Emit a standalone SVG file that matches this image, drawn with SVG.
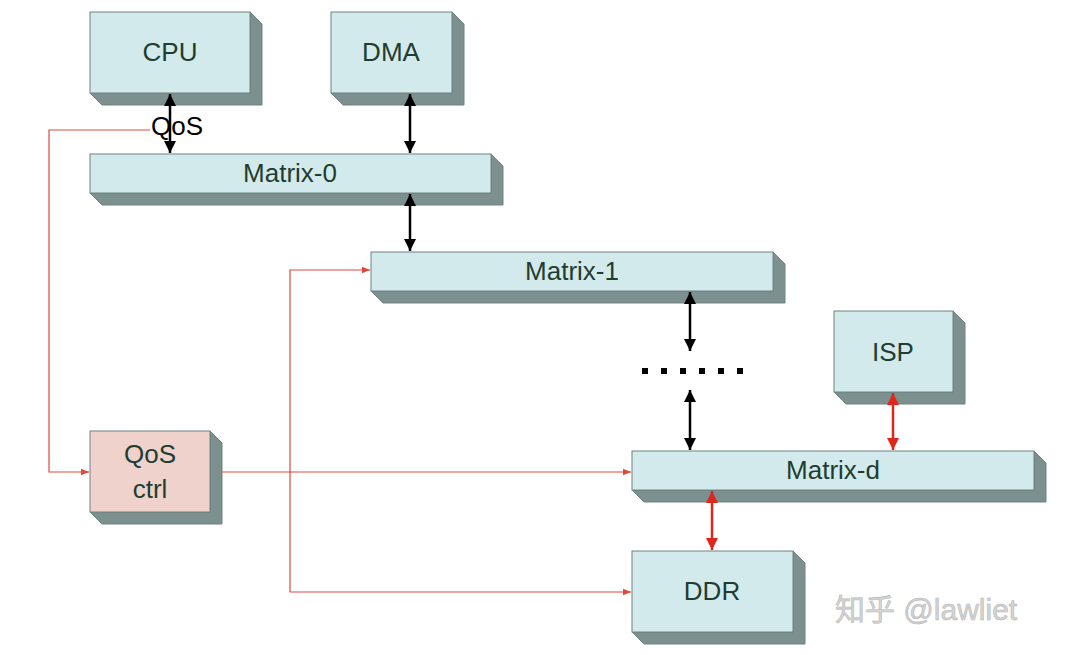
<svg xmlns="http://www.w3.org/2000/svg" width="1067" height="655" viewBox="0 0 1067 655">
<defs>
<style>
.f{fill:#d3eaed;stroke:#6f8282;stroke-width:1}
.s{fill:#7d9090;stroke:#6f8282;stroke-width:1}
.t{font-family:"Liberation Sans",Arial,sans-serif;font-size:26px;fill:#1f3d30;text-anchor:middle}
.k{stroke:#000;stroke-width:2.5;fill:none;marker-start:url(#kb);marker-end:url(#ka)}
.r{stroke:#e0261b;stroke-width:2.5;fill:none;marker-start:url(#rb);marker-end:url(#ra)}
.ta{stroke:#e0483c;stroke-width:1.2;fill:none;marker-end:url(#sa)}
</style>
<marker id="ka" viewBox="0 0 10 10" refX="10" refY="5" markerWidth="12" markerHeight="12" orient="auto" markerUnits="userSpaceOnUse"><path d="M0,0L10,5L0,10z" fill="#000"/></marker>
<marker id="kb" viewBox="0 0 10 10" refX="0" refY="5" markerWidth="12" markerHeight="12" orient="auto" markerUnits="userSpaceOnUse"><path d="M10,0L0,5L10,10z" fill="#000"/></marker>
<marker id="ra" viewBox="0 0 10 10" refX="10" refY="5" markerWidth="12" markerHeight="12" orient="auto" markerUnits="userSpaceOnUse"><path d="M0,0L10,5L0,10z" fill="#e0261b"/></marker>
<marker id="rb" viewBox="0 0 10 10" refX="0" refY="5" markerWidth="12" markerHeight="12" orient="auto" markerUnits="userSpaceOnUse"><path d="M10,0L0,5L10,10z" fill="#e0261b"/></marker>
<marker id="sa" viewBox="0 0 10 10" refX="10" refY="5" markerWidth="8" markerHeight="8" orient="auto" markerUnits="userSpaceOnUse"><path d="M0,1L10,5L0,9z" fill="#e0483c"/></marker>
</defs>
<rect width="1067" height="655" fill="#fff"/>
<g id="cpu"><path class="s" d="M250,12L262,24V105H102L90,93H250Z"/><rect class="f" x="90" y="12" width="160" height="81"/><text class="t" x="170" y="61">CPU</text></g>
<g id="dma"><path class="s" d="M452,12L464,24V105H343L331,93H452Z"/><rect class="f" x="331" y="12" width="121" height="81"/><text class="t" x="391" y="61">DMA</text></g>
<g id="matrix0"><path class="s" d="M491,154L503,166V205H102L90,193H491Z"/><rect class="f" x="90" y="154" width="401" height="39"/><text class="t" x="290" y="182">Matrix-0</text></g>
<g id="matrix1"><path class="s" d="M773,252L785,264V303H383L371,291H773Z"/><rect class="f" x="371" y="252" width="402" height="39"/><text class="t" x="572" y="280">Matrix-1</text></g>
<g id="isp"><path class="s" d="M953,311L965,323V404H846L834,392H953Z"/><rect class="f" x="834" y="311" width="119" height="81"/><text class="t" x="893" y="361">ISP</text></g>
<g id="matrixd"><path class="s" d="M1034,451L1046,463V502H644L632,490H1034Z"/><rect class="f" x="632" y="451" width="402" height="39"/><text class="t" x="833" y="479">Matrix-d</text></g>
<g id="qosctrl"><path class="s" d="M210,431L222,443V524H102L90,512H210Z"/><rect x="90" y="431" width="120" height="81" fill="#f0d2cd" stroke="#6f8282"/><text class="t" x="150" y="463">QoS</text><text class="t" x="150" y="498">ctrl</text></g>
<g id="ddr"><path class="s" d="M793,551L805,563V644H644L632,632H793Z"/><rect class="f" x="632" y="551" width="161" height="81"/><text class="t" x="712" y="600">DDR</text></g>
<g id="connectors">
<path class="ta" d="M150,130H49V472H89"/>
<path class="ta" d="M222,472H631"/>
<path class="ta" d="M290,592V270H370"/>
<path class="ta" d="M290,592H631"/>
<path class="k" d="M170,94V153"/>
<path class="k" d="M410,94V153"/>
<path class="k" d="M410,194V251"/>
<path class="k" d="M690,292V351"/>
<path class="k" d="M690,390V450"/>
<path class="r" d="M893,393V450"/>
<path class="r" d="M712,491V550"/>
<g fill="#000"><rect x="642" y="368" width="6" height="6"/><rect x="661" y="368" width="6" height="6"/><rect x="680" y="368" width="6" height="6"/><rect x="699" y="368" width="6" height="6"/><rect x="718" y="368" width="6" height="6"/><rect x="737" y="368" width="6" height="6"/></g>
<text x="177" y="135" font-family="Liberation Sans,Arial,sans-serif" font-size="26" fill="#000" text-anchor="middle">QoS</text>
</g>
<text x="835" y="620" font-family="Liberation Sans,'Noto Sans CJK SC',sans-serif" font-size="30" fill="#d4d4d4" stroke="#b8b8b8" stroke-width="0.6">知乎 @lawliet</text>
</svg>
